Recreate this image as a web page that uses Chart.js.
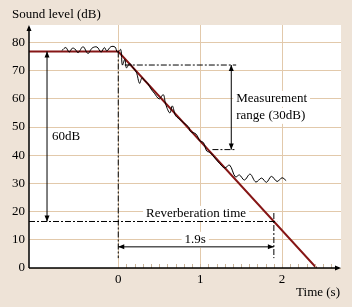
<!DOCTYPE html>
<html>
<head>
<meta charset="utf-8">
<script src="https://cdn.jsdelivr.net/npm/chart.js@4.4.1/dist/chart.umd.min.js"></script>
<style>
  html, body { margin: 0; padding: 0; background: #eee3d7; }
  #wrap { width: 352px; height: 307px; }
</style>
</head>
<body>
<div id="wrap"><canvas id="chart" width="352" height="307"></canvas></div>
<script>
// measured sound level trace (time in s, level in dB)
const measT = [-0.69, -0.64, -0.60, -0.56, -0.53, -0.49, -0.43, -0.37, -0.32, -0.26, -0.21, -0.17, -0.14, -0.09, -0.04, -0.01,
  0.03, 0.05, 0.08, 0.10, 0.14, 0.18, 0.22, 0.26, 0.29, 0.32, 0.36, 0.40, 0.44, 0.50, 0.55, 0.58, 0.63, 0.66, 0.70, 0.74,
  0.80, 0.86, 0.88, 0.95, 1.00, 1.04, 1.08, 1.12, 1.18, 1.24, 1.30, 1.36, 1.43,
  1.48, 1.54, 1.61, 1.68, 1.75, 1.81, 1.87, 1.94, 2.00, 2.05];
const measDb = [77.1, 78.2, 76.6, 78.0, 77.7, 76.4, 78.5, 76.1, 78.0, 78.4, 76.6, 78.2, 77.0, 78.5, 78.4, 76.6,
  77.5, 72.0, 74.0, 71.0, 72.5, 71.0, 69.5, 65.5, 67.5, 66.5, 65.5, 63.5, 62.0, 60.0, 61.5, 58.0, 55.0, 57.5, 54.0, 53.0,
  51.5, 50.0, 48.5, 47.5, 45.0, 44.5, 41.5, 41.0, 39.0, 37.0, 35.5, 36.5, 32.3,
  33.0, 31.2, 33.3, 30.5, 31.9, 30.4, 32.5, 30.7, 32.0, 31.0];

// idealised decay line
const fitT = [-1.09, 0, 2.42];
const fitDb = [76.8, 76.8, 0];

const xTicks = [0, 1, 2];
const yTicks = [0, 10, 20, 30, 40, 50, 60, 70, 80];
const xMin = -1.09, xMax = 2.72, yMin = 0, yMax = 86.2;

// annotation values
const startDb = 76.8;      // steady state level
const endDb = 16.5;        // 60 dB below
const rt = 1.9;            // reverberation time
const rangeDb = [72, 42];  // 30 dB measurement range
const rangeArrowT = 1.38;
const rangeLineEndT = 1.44;
const dbArrowT = -0.87;
const rtArrowDb = 7.5;
const dropFootDb = 3.5;

const TAN = '#e2c9ab';
const FONT = "'Liberation Serif', 'Times New Roman', serif";

function dashSet(pts) {
  return {
    type: 'line', data: pts, borderColor: '#000', borderWidth: 1,
    borderDash: [6, 2, 2, 2], pointRadius: 0, fill: false, tension: 0
  };
}

function arrowHead(ctx, x, y, dx, dy) {
  const len = Math.hypot(dx, dy), ux = dx / len, uy = dy / len;
  ctx.beginPath();
  ctx.moveTo(x, y);
  ctx.lineTo(x - ux * 6 - uy * 2.5, y - uy * 6 + ux * 2.5);
  ctx.lineTo(x - ux * 6 + uy * 2.5, y - uy * 6 - ux * 2.5);
  ctx.closePath();
  ctx.fill();
}

function arrow(ctx, x1, y1, x2, y2, both) {
  ctx.beginPath();
  ctx.moveTo(x1, y1);
  ctx.lineTo(x2, y2);
  ctx.stroke();
  arrowHead(ctx, x2, y2, x2 - x1, y2 - y1);
  if (both) arrowHead(ctx, x1, y1, x1 - x2, y1 - y2);
}

function label(ctx, text, x, y, align) {
  ctx.font = '13px ' + FONT;
  ctx.textAlign = align || 'left';
  ctx.textBaseline = 'middle';
  const w = ctx.measureText(text).width;
  const left = align === 'center' ? x - w / 2 : x;
  ctx.fillStyle = '#fff';
  ctx.fillRect(left - 3, y - 8, w + 6, 16);
  ctx.fillStyle = '#000';
  ctx.fillText(text, x, y);
}

const decorations = {
  id: 'decorations',
  beforeDraw(chart) {
    const { ctx, chartArea: a } = chart;
    ctx.save();
    ctx.fillStyle = '#fff';
    ctx.fillRect(a.left, a.top, a.right - a.left, a.bottom - a.top);
    ctx.restore();
  },
  beforeDatasetsDraw(chart) {
    const { ctx, scales: { x, y } } = chart;
    ctx.save();
    label(ctx, 'Measurement', x.getPixelForValue(rangeArrowT) + 5, y.getPixelForValue(60));
    label(ctx, 'range (30dB)', x.getPixelForValue(rangeArrowT) + 5, y.getPixelForValue(60) + 17);
    label(ctx, 'Reverberation time', x.getPixelForValue(0.95), y.getPixelForValue(19.2), 'center');
    label(ctx, '1.9s', x.getPixelForValue(0.94), y.getPixelForValue(10), 'center');
    ctx.fillStyle = '#000';
    ctx.font = '13px ' + FONT;
    ctx.textAlign = 'left';
    ctx.textBaseline = 'middle';
    ctx.fillText('60dB', x.getPixelForValue(-0.81), y.getPixelForValue(46.6));
    ctx.restore();
  },
  afterDraw(chart) {
    const { ctx, chartArea: a, scales: { x, y } } = chart;
    ctx.save();
    // minor ticks on time axis
    ctx.strokeStyle = '#c9b49a';
    ctx.lineWidth = 1;
    for (let t = 1; t <= 26; t++) {
      const px = Math.round(x.getPixelForValue(t / 10)) + 0.5;
      ctx.beginPath();
      ctx.moveTo(px, a.bottom);
      ctx.lineTo(px, a.bottom - 4);
      ctx.stroke();
    }
    // arrows
    ctx.strokeStyle = '#000';
    ctx.fillStyle = '#000';
    ctx.lineWidth = 1;
    const dx = x.getPixelForValue(dbArrowT);
    arrow(ctx, dx, y.getPixelForValue(endDb), dx, y.getPixelForValue(startDb), true);
    const rx = x.getPixelForValue(rangeArrowT);
    arrow(ctx, rx, y.getPixelForValue(rangeDb[1]), rx, y.getPixelForValue(rangeDb[0]), true);
    const ry = y.getPixelForValue(rtArrowDb);
    arrow(ctx, x.getPixelForValue(0), ry, x.getPixelForValue(rt), ry, true);
    // axes
    ctx.lineWidth = 1.5;
    ctx.beginPath();
    ctx.moveTo(a.left, a.bottom);
    ctx.lineTo(a.left, a.top + 2);
    ctx.moveTo(a.left, a.bottom);
    ctx.lineTo(a.right - 2, a.bottom);
    ctx.stroke();
    arrowHead(ctx, a.left, a.top, 0, -1);
    arrowHead(ctx, a.right, a.bottom, 1, 0);
    // axis titles
    ctx.font = '13px ' + FONT;
    ctx.textBaseline = 'middle';
    ctx.textAlign = 'left';
    ctx.fillText('Sound level (dB)', 12, 15);
    ctx.textAlign = 'right';
    ctx.fillText('Time (s)', 340, 293);
    ctx.restore();
  }
};

const pts = (ts, vs) => ts.map((t, i) => ({ x: t, y: vs[i] }));

new Chart(document.getElementById('chart'), {
  type: 'line',
  data: {
    datasets: [
      dashSet(pts([xMin, 1.94], [endDb, endDb])),
      dashSet(pts([0, 0], [startDb, dropFootDb])),
      dashSet(pts([rt, rt], [19.5, dropFootDb])),
      dashSet(pts([0.08, rangeLineEndT], [rangeDb[0], rangeDb[0]])),
      dashSet(pts([1.15, rangeLineEndT], [rangeDb[1], rangeDb[1]])),
      {
        type: 'line', data: pts(measT, measDb), borderColor: '#000', borderWidth: 1,
        pointRadius: 0, tension: 0.35, fill: false
      },
      {
        type: 'line', data: pts(fitT, fitDb), borderColor: '#861616', borderWidth: 2,
        pointRadius: 0, tension: 0, fill: false
      }
    ]
  },
  options: {
    responsive: false,
    animation: false,
    events: [],
    layout: { padding: { top: 25, right: 11, left: 0, bottom: 0 } },
    plugins: { legend: { display: false }, tooltip: { enabled: false } },
    scales: {
      x: {
        type: 'linear', min: xMin, max: xMax,
        afterBuildTicks: s => { s.ticks = xTicks.map(v => ({ value: v })); },
        afterFit: s => { s.height = 39; },
        border: { display: false },
        grid: { color: TAN, drawTicks: false, lineWidth: 1 },
        ticks: { color: '#000', padding: 4, font: { family: FONT, size: 13 }, callback: v => String(v) }
      },
      y: {
        type: 'linear', min: yMin, max: yMax,
        afterBuildTicks: s => { s.ticks = yTicks.map(v => ({ value: v })); },
        afterFit: s => { s.width = 29; },
        border: { display: false },
        grid: { color: TAN, drawTicks: false, lineWidth: 1 },
        ticks: { color: '#000', padding: 4, font: { family: FONT, size: 13 }, callback: v => String(v) }
      }
    }
  },
  plugins: [decorations]
});
</script>
</body>
</html>
